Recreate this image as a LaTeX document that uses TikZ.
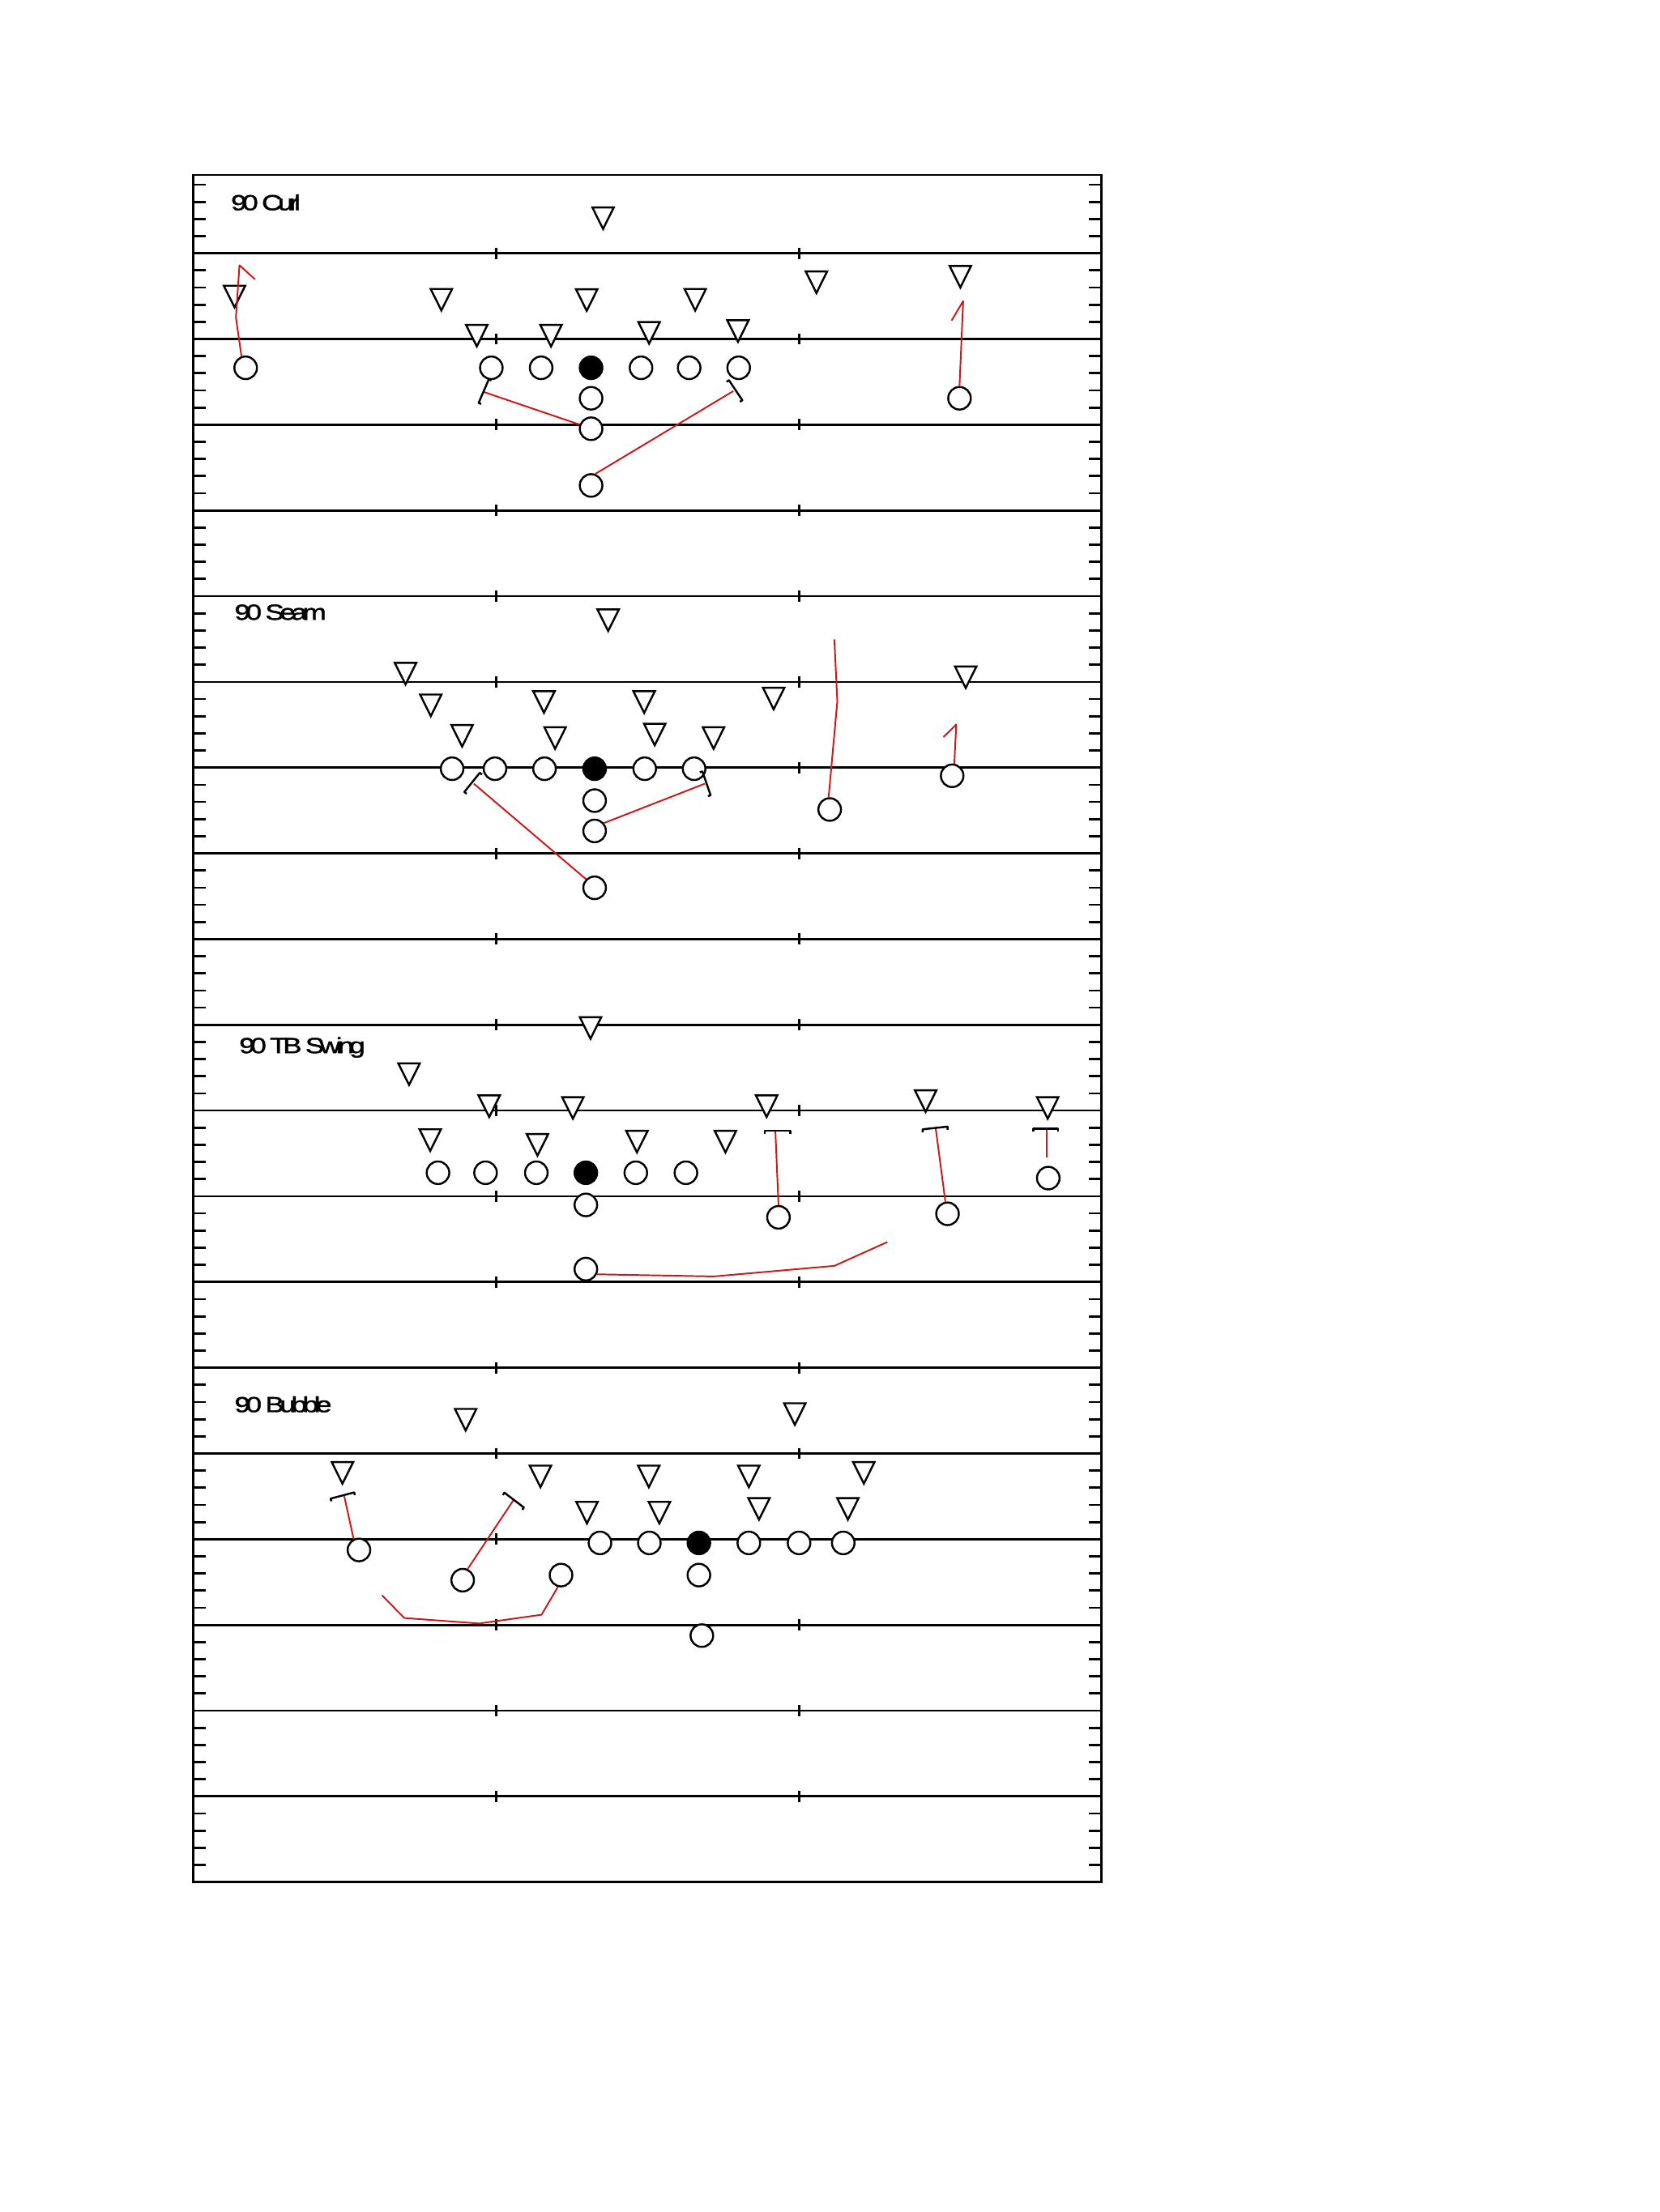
\documentclass[tikz,border=0pt]{standalone}
\usepackage{fontspec}
\setmainfont{Liberation Sans}
\newfontfamily\lblfont[FakeBold=1.5,FakeStretch=1.3,LetterSpace=-20]{Liberation Sans}
\usetikzlibrary{calc}
\definecolor{route}{RGB}{204,24,24}
\newcommand\dtri[3]{\coordinate (#1) at (#2,#3);
  \draw[defline] ($(#1)+(-7.6,0)$) -- ($(#1)+(7.6,0)$) -- ($(#1)+(0,15.3)$) -- cycle;}
\newcommand\blockbar[3]{\draw[barline] ($(#1)+(#3)$) -- (#1) -- (#2) -- ($(#2)+(#3)$);}
\begin{document}
\begin{tikzpicture}[x=0.01cm,y=-0.01cm,
  fieldline/.style={line width=0.45pt,black},
  tickline/.style={line width=0.45pt,black},
  off/.style={circle,draw=black,line width=0.4pt,minimum size=0.16cm,inner sep=0pt,fill=white},
  ctr/.style={off,fill=black},
  defline/.style={line width=0.4pt,draw=black,fill=white,line join=miter},
  rt/.style={draw=route,line width=0.32pt,line join=round},
  barline/.style={line width=0.4pt,black,line join=round},
  lbl/.style={inner sep=0pt,anchor=base west,font=\lblfont\fontsize{4.4pt}{5pt}\selectfont}]
\useasboundingbox[fill=white] (0,0) rectangle (1176,1568);
% ---------------- field ----------------
\draw[fieldline] (136.8,124) rectangle (780.5,1334);
\foreach \k in {1,...,19}{
  \draw[fieldline] (136.8,{179.5+60.77*(\k-1)}) -- (780.5,{179.5+60.77*(\k-1)});
  \draw[tickline] (351.5,{179.5+60.77*(\k-1)-4}) -- (351.5,{179.5+60.77*(\k-1)+4});
  \draw[tickline] (566.5,{179.5+60.77*(\k-1)-4}) -- (566.5,{179.5+60.77*(\k-1)+4});
}
\foreach \k in {0,...,19}{
  \foreach \j in {1,...,4}{
    \draw[tickline] (136.8,{118.73+60.77*\k+12.154*\j}) -- (146,{118.73+60.77*\k+12.154*\j});
    \draw[tickline] (771.5,{118.73+60.77*\k+12.154*\j}) -- (780.5,{118.73+60.77*\k+12.154*\j});
  }
}
% ---------------- labels ----------------
\node[lbl] (t1) at (163,149) {90 Curl};
\node[lbl] (t2) at (165.5,439.3) {90 Seam};
\node[lbl] (t3) at (168.8,746.5) {90 TB Swing};
\node[lbl] (t4) at (165.5,1001) {90 Bubble};
% ================= 90 Curl =================
\dtri{d1a}{427.4}{147}
\dtri{d1b}{166.2}{202.5}
\dtri{d1c}{312.8}{204.8}
\dtri{d1d}{415.8}{205}
\dtri{d1e}{492.7}{204.8}
\dtri{d1f}{578.6}{192.4}
\dtri{d1g}{680.6}{188.5}
\dtri{d1h}{337.9}{230.3}
\dtri{d1i}{390.5}{230.3}
\dtri{d1j}{460}{228.3}
\dtri{d1k}{523}{227}
\node[off] (o1a) at (174.1,260.7) {};
\node[off] (o1b) at (348.2,260.7) {};
\node[off] (o1c) at (383.5,260.7) {};
\node[ctr] (o1d) at (418.9,260.7) {};
\node[off] (o1e) at (454.3,260.7) {};
\node[off] (o1f) at (488.4,260.7) {};
\node[off] (o1g) at (523.5,260.7) {};
\node[off] (o1h) at (418.9,282.3) {};
\node[off] (o1i) at (418.9,303.9) {};
\node[off] (o1j) at (418.9,344.1) {};
\node[off] (o1k) at (680,282.3) {};
\coordinate (r1a1) at (167.2,225);
\coordinate (r1a2) at (169.7,188);
\coordinate (r1a3) at (180.8,198);
\draw[rt] (o1a.110) -- (r1a1) -- (r1a2) -- (r1a3);
\coordinate (r1k1) at (682.6,213.4);
\coordinate (r1k2) at (674.4,227.2);
\draw[rt] (o1k.north) -- (r1k1) -- (r1k2);
\coordinate (b1a) at (346.4,268.9);
\coordinate (b1b) at (339.2,285.6);
\coordinate (b1m) at (343,277.9);
\draw[rt] (o1i.160) -- (b1m);
\blockbar{b1a}{b1b}{1.8,0.8}
\coordinate (b1c) at (516.6,269.5);
\coordinate (b1d) at (526.1,283.7);
\coordinate (b1n) at (519.7,277.2);
\draw[rt] (o1j.70) -- (b1n);
\blockbar{b1c}{b1d}{-1.7,1.1}
% ================= 90 Seam =================
\dtri{d2a}{431}{432}
\dtri{d2b}{287.4}{469.9}
\dtri{d2c}{305.3}{492.3}
\dtri{d2d}{385.5}{490}
\dtri{d2e}{456.5}{490}
\dtri{d2f}{548.3}{487.5}
\dtri{d2g}{684.4}{472.4}
\dtri{d2h}{327.5}{513.9}
\dtri{d2i}{393.4}{515.5}
\dtri{d2j}{464}{513}
\dtri{d2k}{505.7}{515.5}
\node[off] (o2a) at (320.4,544.9) {};
\node[off] (o2b) at (350.8,544.9) {};
\node[off] (o2c) at (385.9,544.9) {};
\node[ctr] (o2d) at (421.4,544.9) {};
\node[off] (o2e) at (456.9,544.9) {};
\node[off] (o2f) at (491.9,544.9) {};
\node[off] (o2g) at (421.4,567.5) {};
\node[off] (o2h) at (421.4,589) {};
\node[off] (o2i) at (421.4,629.3) {};
\node[off] (o2j) at (588,573.8) {};
\node[off] (o2k) at (674.8,549.9) {};
\coordinate (r2j1) at (593.4,497.1);
\coordinate (r2j2) at (591.3,453.2);
\draw[rt] (o2j.95) -- (r2j1) -- (r2j2);
\coordinate (r2k1) at (677.7,513.5);
\coordinate (r2k2) at (668.6,522.5);
\draw[rt] (o2k.80) -- (r2k1) -- (r2k2);
\coordinate (b2a) at (340,547.8);
\coordinate (b2b) at (329.1,561.4);
\coordinate (b2m) at (335.8,555.5);
\draw[rt] (o2i.135) -- (b2m);
\blockbar{b2a}{b2b}{1.6,1.25}
\coordinate (b2c) at (497.8,546.8);
\coordinate (b2d) at (503.6,563.7);
\coordinate (b2n) at (499.5,555.5);
\draw[rt] (o2h.40) -- (b2n);
\blockbar{b2c}{b2d}{-1.9,0.65}
% ================= 90 TB Swing =================
\dtri{d3a}{418.5}{721}
\dtri{d3b}{289.9}{753.8}
\dtri{d3c}{346.7}{776.5}
\dtri{d3d}{406}{777.7}
\dtri{d3e}{543.3}{776.5}
\dtri{d3f}{656}{772.9}
\dtri{d3g}{742.5}{777.7}
\dtri{d3h}{304.9}{800.5}
\dtri{d3i}{380.9}{803.9}
\dtri{d3j}{451.4}{801.6}
\dtri{d3k}{514.1}{801.6}
\node[off] (o3a) at (310.4,831.3) {};
\node[off] (o3b) at (344.1,831.3) {};
\node[off] (o3c) at (380.1,831.3) {};
\node[ctr] (o3d) at (415.2,831.3) {};
\node[off] (o3e) at (450.6,831.3) {};
\node[off] (o3f) at (486.1,831.3) {};
\node[off] (o3g) at (415.2,854.1) {};
\node[off] (o3h) at (415.2,899.6) {};
\node[off] (o3i) at (551.7,862.9) {};
\node[off] (o3j) at (671.5,860.4) {};
\node[off] (o3k) at (742.9,835.1) {};
\coordinate (b3a) at (542,801.6);
\coordinate (b3b) at (560,801.6);
\coordinate (b3m) at (549.5,801.6);
\draw[rt] (o3i.north) -- (b3m);
\blockbar{b3a}{b3b}{0,2.2}
\coordinate (b3c) at (653.9,800.5);
\coordinate (b3d) at (671.5,798.6);
\coordinate (b3n) at (663.1,799.6);
\draw[rt] (o3j.100) -- (b3n);
\blockbar{b3c}{b3d}{0,2.2}
\coordinate (b3e) at (732.4,800);
\coordinate (b3f) at (749.9,800);
\coordinate (b3o) at (741.6,800);
\coordinate (r3k0) at (741.6,820.7);
\draw[rt] (r3k0) -- (b3o);
\blockbar{b3e}{b3f}{0,2.2}
\coordinate (r3h1) at (505.7,904.8);
\coordinate (r3h2) at (591.3,897.3);
\coordinate (r3h3) at (628.9,880.4);
\draw[rt] (o3h.-25) -- (r3h1) -- (r3h2) -- (r3h3);
% ================= 90 Bubble =================
\dtri{d4a}{330}{998.7}
\dtri{d4b}{563.3}{994.7}
\dtri{d4c}{242.7}{1036.4}
\dtri{d4d}{383}{1038.9}
\dtri{d4e}{459.8}{1038.9}
\dtri{d4f}{530.7}{1038.9}
\dtri{d4g}{612.2}{1036.4}
\dtri{d4h}{416}{1064.6}
\dtri{d4i}{467.3}{1064.6}
\dtri{d4j}{537.9}{1061.9}
\dtri{d4k}{600.9}{1061.9}
\node[off] (o4a) at (425.2,1093.7) {};
\node[off] (o4b) at (460.2,1093.7) {};
\node[ctr] (o4c) at (495.3,1093.7) {};
\node[off] (o4d) at (530.7,1093.7) {};
\node[off] (o4e) at (566.3,1093.7) {};
\node[off] (o4f) at (597.6,1093.7) {};
\node[off] (o4g) at (254.4,1098.7) {};
\node[off] (o4h) at (327.9,1120.1) {};
\node[off] (o4i) at (397.6,1116.5) {};
\node[off] (o4j) at (495.3,1116.5) {};
\node[off] (o4k) at (497.4,1159.4) {};
\coordinate (b4a) at (234.3,1062.3);
\coordinate (b4b) at (251,1057.9);
\coordinate (b4m) at (244,1060.6);
\draw[rt] (o4g.116) -- (b4m);
\blockbar{b4a}{b4b}{0.5,1.9}
\coordinate (b4c) at (357.5,1058.1);
\coordinate (b4d) at (371.3,1068.6);
\coordinate (b4n) at (363.8,1063.5);
\draw[rt] (o4h.66) -- (b4n);
\blockbar{b4c}{b4d}{-1.2,1.6}
\coordinate (r4i1) at (383.8,1144.6);
\coordinate (r4i2) at (339.6,1150.8);
\coordinate (r4i3) at (286.5,1146.9);
\coordinate (r4i4) at (270.7,1130.8);
\draw[rt] (o4i.-105) -- (r4i1) -- (r4i2) -- (r4i3) -- (r4i4);
\end{tikzpicture}
\end{document}
